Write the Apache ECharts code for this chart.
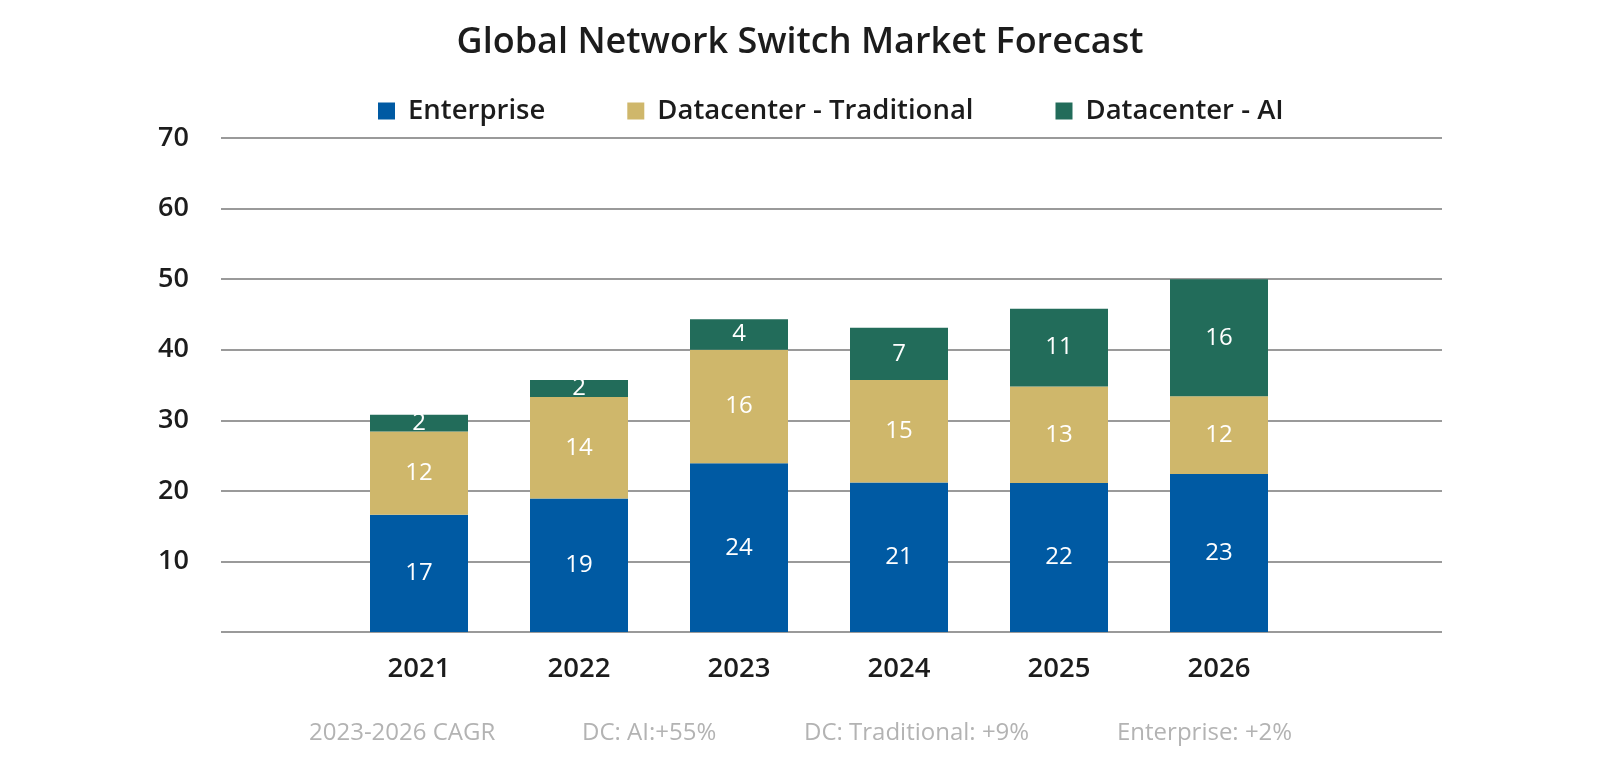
<!DOCTYPE html>
<html>
<head>
<meta charset="utf-8">
<title>Global Network Switch Market Forecast</title>
<script src="https://cdn.jsdelivr.net/npm/echarts@6/dist/echarts.min.js"></script>
<style>
  html, body { margin: 0; padding: 0; background: #fff; }
  #chart { width: 1600px; height: 780px; }
</style>
</head>
<body>
<div id="chart"></div>
<script>
var years = ['2021', '2022', '2023', '2024', '2025', '2026']

// bar heights
var enterprise = [16.6, 18.9, 23.9, 21.2, 21.1, 22.4]
var dcTraditional = [11.8, 14.4, 16.1, 14.5, 13.7, 11.0]
var dcAI = [2.4, 2.4, 4.3, 7.4, 11.0, 16.6]

// numbers printed inside the bars
var enterpriseLabels = [17, 19, 24, 21, 22, 23]
var dcTraditionalLabels = [12, 14, 16, 15, 13, 12]
var dcAILabels = [2, 2, 4, 7, 11, 16]

var footerNotes = ['2023-2026 CAGR', 'DC: AI:+55%', 'DC: Traditional: +9%', 'Enterprise: +2%']
var footerLeft = [309, 582, 804, 1117]

var FONT = '"Open Sans", "Noto Sans", sans-serif'
var DARK = '#1c1c1c'
var GRID_LINE = '#9a9a9a'

var chart = echarts.init(document.getElementById('chart'))

function stackSeries(name, values, labels, color) {
  return {
    name: name,
    type: 'bar',
    stack: 'total',
    xAxisIndex: 1,
    yAxisIndex: 1,
    barWidth: 98,
    itemStyle: { color: color },
    label: {
      show: true,
      position: 'inside',
      color: '#fff',
      fontFamily: FONT,
      fontSize: 24,
      fontWeight: 500,
      formatter: function(p) { return String(labels[p.dataIndex]) }
    },
    emphasis: { disabled: true },
    data: values
  }
}

var option = {
  animation: false,
  backgroundColor: '#fff',
  title: {
    text: 'Global Network Switch Market Forecast',
    left: 'center',
    top: 20,
    textStyle: { fontFamily: FONT, fontSize: 36, fontWeight: 600, color: DARK }
  },
  legend: {
    top: 92,
    left: 373,
    icon: 'rect',
    itemWidth: 17,
    itemHeight: 17,
    itemGap: 82,
    textStyle: { fontFamily: FONT, fontSize: 27.5, fontWeight: 600, color: DARK, padding: [0, 0, 0, 8] },
    data: ['Enterprise', 'Datacenter - Traditional', 'Datacenter - AI']
  },
  grid: [
    { left: 221, right: 158, top: 138, bottom: 148 },
    { left: 339, right: 301, top: 138, bottom: 148 }
  ],
  xAxis: [
    {
      type: 'category',
      gridIndex: 0,
      data: years,
      axisLine: { show: false },
      axisTick: { show: false },
      axisLabel: { show: false }
    },
    {
      type: 'category',
      gridIndex: 1,
      data: years,
      axisLine: { show: false },
      axisTick: { show: false },
      axisLabel: { margin: 23, fontFamily: FONT, fontSize: 27.5, fontWeight: 600, color: DARK }
    }
  ],
  yAxis: [
    {
      type: 'value',
      gridIndex: 0,
      min: 0,
      max: 70,
      interval: 10,
      axisLine: { show: false },
      axisTick: { show: false },
      splitLine: { lineStyle: { color: GRID_LINE, width: 2 } },
      axisLabel: {
        margin: 32,
        fontFamily: FONT,
        fontSize: 27,
        fontWeight: 600,
        color: DARK,
        formatter: function(v) { return v === 0 ? '' : String(v) }
      }
    },
    {
      type: 'value',
      gridIndex: 1,
      min: 0,
      max: 70,
      interval: 10,
      show: false,
      splitLine: { show: false }
    }
  ],
  series: [
    stackSeries('Enterprise', enterprise, enterpriseLabels, '#005AA3'),
    stackSeries('Datacenter - Traditional', dcTraditional, dcTraditionalLabels, '#CFB76B'),
    stackSeries('Datacenter - AI', dcAI, dcAILabels, '#226C5A')
  ],
  graphic: footerNotes.map(function(t, i) {
    return {
      type: 'text',
      left: footerLeft[i],
      top: 721,
      style: { text: t, fill: '#b3b3b3', font: '24px ' + FONT }
    }
  })
}

chart.setOption(option)
</script>
</body>
</html>
